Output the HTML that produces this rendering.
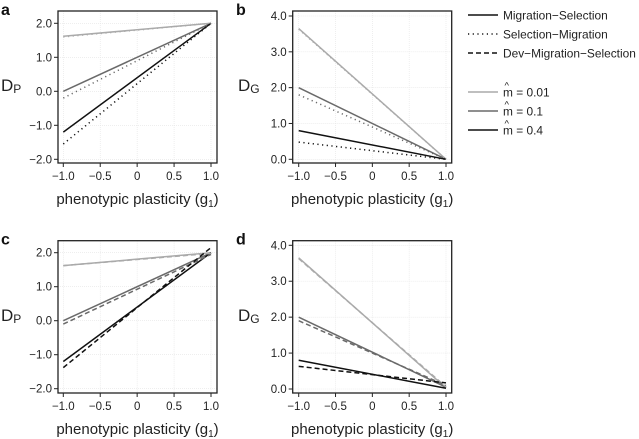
<!DOCTYPE html>
<html><head><meta charset="utf-8"><style>
body{margin:0;background:#fff}
svg{display:block;font-family:"Liberation Sans",sans-serif}
</style></head><body>
<svg id="chart" width="639" height="439" viewBox="0 0 639 439"></svg>
<script>
const xTicks=[-1,-0.5,0,0.5,1];
const xTickLabels=["\u22121.0","\u22120.5","0","0.5","1.0"];
const dpTicks=[-2,-1,0,1,2];
const dpTickLabels=["\u22122.0","\u22121.0","0.0","1.0","2.0"];
const dgTicks=[0,1,2,3,4];
const dgTickLabels=["0.0","1.0","2.0","3.0","4.0"];
const mValues=["0.01","0.1","0.4"];
// endpoints [value at g1=-1, value at g1=1]
const aSolid=[[1.62,2.0],[0.0,2.0],[-1.2,2.0]];
const aDotted=[[1.6,2.0],[-0.2,2.0],[-1.55,2.0]];
const bSolid=[[3.65,0],[2.0,0],[0.8,0]];
const bDotted=[[3.63,0],[1.8,0],[0.48,0]];
const cSolid=[[1.62,2.0],[0.0,2.0],[-1.2,2.0]];
const cDashed=[[1.62,1.98],[-0.1,1.95],[-1.38,2.15]];
const dSolid=[[3.65,0.03],[2.0,0.05],[0.8,0.02]];
const dDashed=[[3.63,0.06],[1.9,0.1],[0.63,0.17]];
const colors=["#aaaaaa","#6a6a6a","#111111"];
const NS="http://www.w3.org/2000/svg";
const svg=document.getElementById('chart');
function el(tag,attrs,parent,text){const e=document.createElementNS(NS,tag);for(const k in attrs)e.setAttribute(k,attrs[k]);if(text!==undefined)e.textContent=text;(parent||svg).appendChild(e);return e;}
function panel(p){
  const g=el('g',{});
  
  
  const xs=v=>p.x0+(v+1)/2*(p.x1-p.x0);
  const ys=v=>p.yb+(v-p.vb)/(p.vt-p.vb)*(p.yt-p.yb);
  xTicks.forEach(t=>{const l=el('line',{x1:xs(t),x2:xs(t),y1:p.top,y2:p.bot,stroke:'#e4e4e4','stroke-width':0.6,'stroke-dasharray':'1 1'},g);});
  p.ticks.forEach(t=>{const l=el('line',{x1:p.left,x2:p.right,y1:ys(t),y2:ys(t),stroke:'#e4e4e4','stroke-width':0.6,'stroke-dasharray':'1 1'},g);});
  const series=[[p.s1,'none','solid'],[p.s2,p.dash,p.kind]];
  series.forEach(([arr,da,kind])=>{arr.forEach((v,i)=>{
    const ln=el('line',{x1:xs(-1),y1:ys(v[0]),x2:xs(1),y2:ys(v[1]),stroke:colors[i],'stroke-width':1.5,'stroke-dasharray':da},g);
    
    
  });});
  const fr=el('rect',{x:p.left,y:p.top,width:p.right-p.left,height:p.bot-p.top,fill:'none',stroke:'#222','stroke-width':1.3},g);
  
  p.ticks.forEach((t,i)=>{el('line',{x1:p.left-4,x2:p.left,y1:ys(t),y2:ys(t),stroke:'#222'},g);
    const tx=el('text',{x:p.left-6,y:ys(t)+4,'font-size':11.5,'text-anchor':'end',fill:'#222'},g,p.tickLabels[i]);
    });
  xTicks.forEach((t,i)=>{el('line',{x1:xs(t),x2:xs(t),y1:p.bot,y2:p.bot+4,stroke:'#222'},g);
    const tx=el('text',{x:xs(t),y:p.bot+17,'font-size':11.5,'text-anchor':'middle',fill:'#222'},g,xTickLabels[i]);
    });
  const xt=el('text',{x:(p.left+p.right)/2,y:p.bot+41,'font-size':15,'text-anchor':'middle',fill:'#222'},g);
  xt.innerHTML='phenotypic plasticity (g<tspan font-size="10" dy="3">1</tspan><tspan dy="-3">)</tspan>';
  
  const yt=el('text',{x:p.ylx,y:(p.top+p.bot)/2+4,'font-size':17,fill:'#222'},g);
  yt.innerHTML='D<tspan font-size="12" dy="2">'+p.sub+'</tspan>';
  
  const pl=el('text',{x:p.llx,y:p.top+4,'font-size':16,'font-weight':'bold',fill:'#111'},g,p.label);
  
}
panel({label:'a',left:58,right:217,top:11,bot:163,x0:63.3,x1:211,yt:23.3,vt:2,yb:159.3,vb:-2,ticks:dpTicks,tickLabels:dpTickLabels,s1:aSolid,s2:aDotted,dash:'1.2 3.5',kind:'dotted',sub:'P',ylx:1,llx:1});
panel({label:'b',left:292.7,right:451.7,top:11,bot:163,x0:298.7,x1:446,yt:16,vt:4,yb:159.3,vb:0,ticks:dgTicks,tickLabels:dgTickLabels,s1:bSolid,s2:bDotted,dash:'1.2 3.5',kind:'dotted',sub:'G',ylx:238,llx:236});
panel({label:'c',left:58,right:217,top:240.7,bot:393,x0:63.3,x1:211,yt:252.7,vt:2,yb:388.7,vb:-2,ticks:dpTicks,tickLabels:dpTickLabels,s1:cSolid,s2:cDashed,dash:'5 3',kind:'dashed',sub:'P',ylx:1,llx:1});
panel({label:'d',left:292.7,right:451.7,top:240.7,bot:393,x0:298.7,x1:446,yt:245.3,vt:4,yb:389,vb:0,ticks:dgTicks,tickLabels:dgTickLabels,s1:dSolid,s2:dDashed,dash:'5 3',kind:'dashed',sub:'G',ylx:238,llx:236});
const lg=el('g',{});


const styles=[['none','Migration\u2212Selection'],['1.2 3.5','Selection\u2212Migration'],['5 3','Dev\u2212Migration\u2212Selection']];
styles.forEach((s,i)=>{const y=15+i*19;
  const ln=el('line',{x1:468,x2:498,y1:y,y2:y,stroke:'#111','stroke-width':1.5,'stroke-dasharray':s[0]},lg);
  
  const t=el('text',{x:503,y:y+4.5,'font-size':11.9,fill:'#222'},lg,s[1]);
  });
mValues.forEach((m,i)=>{const y=92+i*19;
  const ln=el('line',{x1:468,x2:498,y1:y,y2:y,stroke:colors[i],'stroke-width':1.5},lg);
  
  const t=el('text',{x:503,y:y+4.5,'font-size':11.9,fill:'#222'},lg,'m = '+m);
  
  const h=el('text',{x:504.5,y:y-3.5,'font-size':9.5,fill:'#222'},lg,'^');
  });
</script>
</body></html>
